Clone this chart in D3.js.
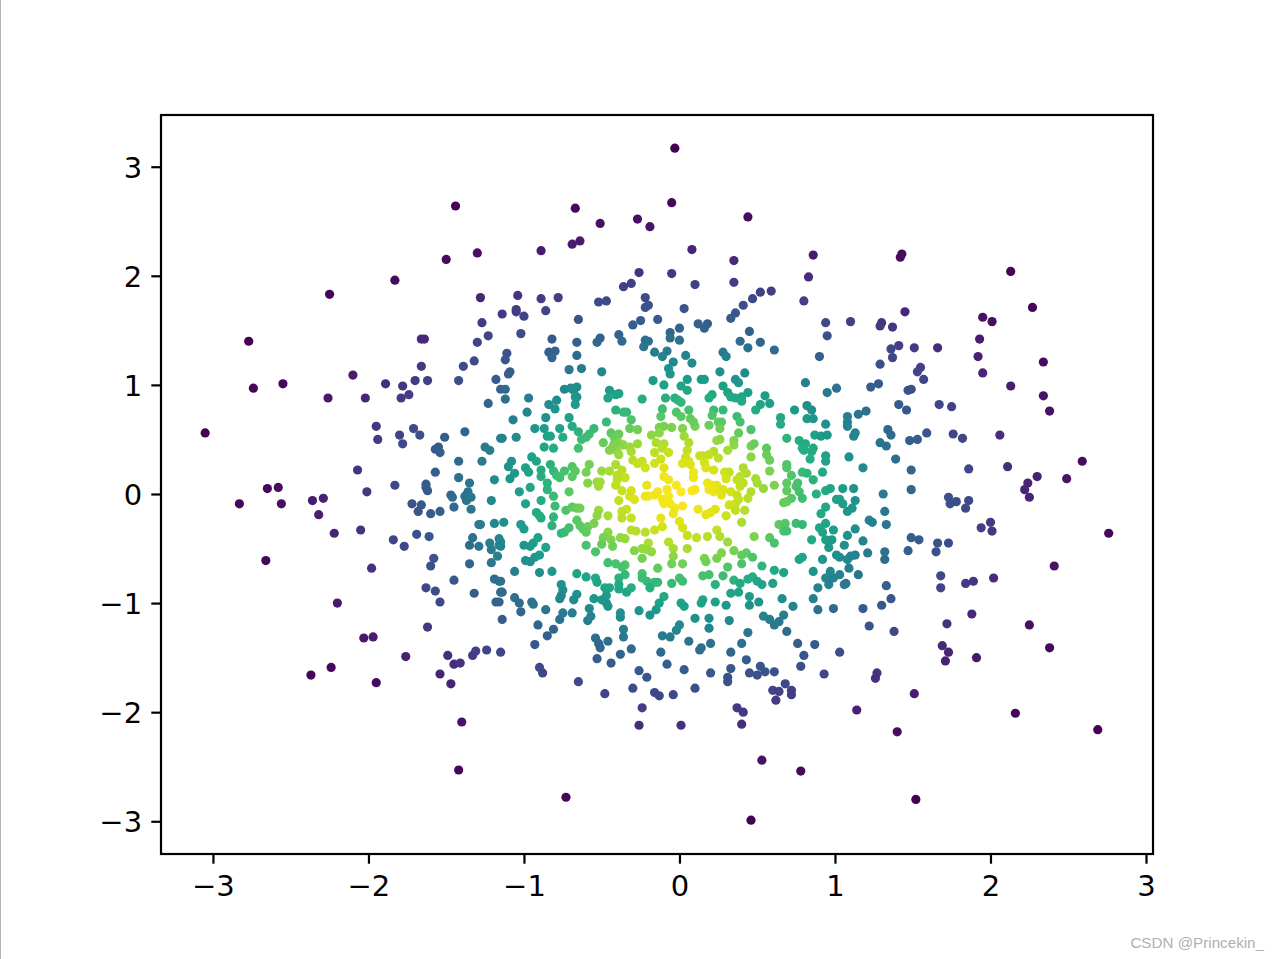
<!DOCTYPE html>
<html>
<head>
<meta charset="utf-8">
<script src="https://cdn.jsdelivr.net/npm/d3@7/dist/d3.min.js"></script>
<style>
html,body{margin:0;padding:0;background:#fff;overflow:hidden}
svg{display:block}
.tick text{font-family:"DejaVu Sans",sans-serif;font-size:29px;fill:#000}
</style>
</head>
<body>
<script>
const xTicks=[-3,-2,-1,0,1,2,3];
const yTicks=[-3,-2,-1,0,1,2,3];
const watermark="CSDN @Princekin_";
const xDomain=[-3.334,3.045];
const yDomain=[-3.30,3.474];
const colorDistance=[0,0.22,0.5,0.62,0.75,0.88,1.03,1.3,1.52,1.9,2.2,2.6,3.17];
const colorLevel=[1,0.97,0.87,0.80,0.72,0.63,0.56,0.42,0.31,0.20,0.11,0.03,0];

const upperLeft=[[-1.44,2.64],[-1.30,2.21],[-1.50,2.15],[-1.83,1.96],[-2.25,1.83],[-1.28,1.80],[-1.27,1.57],[-1.23,1.45],[-1.30,1.39],[-2.77,1.40],[-1.66,1.42],[-1.64,1.42],[-1.32,1.22],[-1.66,1.17],[-1.39,1.17]];
const upperMiddle=[[-0.03,3.17],[-0.05,2.67],[-0.67,2.62],[-0.51,2.48],[-0.27,2.52],[-0.19,2.45],[0.44,2.54],[-0.89,2.23],[-0.69,2.29],[-0.64,2.32],[0.08,2.24],[0.35,2.14],[0.86,2.19],[0.83,1.99],[-0.26,2.03],[-0.05,2.02],[0.35,1.94],[0.10,1.92],[-0.31,1.93],[-0.36,1.90],[0.59,1.86],[0.52,1.85],[0.47,1.79],[0.41,1.73],[0.36,1.66],[0.33,1.61],[0.80,1.77],[-1.04,1.82],[-0.89,1.79],[-0.78,1.80],[-0.86,1.68],[-1.05,1.69],[-1.05,1.67],[-1.00,1.63],[-1.14,1.65],[-0.52,1.76],[-0.47,1.77],[-0.22,1.80],[-0.20,1.73],[-0.22,1.71],[0.03,1.70],[-0.65,1.60],[-0.14,1.60],[-0.25,1.59],[-0.30,1.55],[0.12,1.56],[0.18,1.56],[0.16,1.52],[0.00,1.52],[-0.06,1.48],[-0.06,1.43],[0.00,1.41],[-1.02,1.47],[-0.82,1.42],[-0.66,1.39],[-0.51,1.43],[-0.53,1.39],[-0.39,1.46],[-0.37,1.40],[-0.22,1.41],[-0.20,1.40],[-0.23,1.35],[-0.16,1.30],[-0.08,1.31],[-0.11,1.26],[0.04,1.27],[-0.04,1.21],[0.08,1.20],[0.28,1.30],[0.30,1.26],[0.45,1.49],[0.39,1.40],[0.44,1.34],[0.52,1.39],[0.61,1.32],[0.94,1.57],[0.95,1.45],[0.90,1.26],[-1.11,1.29],[-1.12,1.23],[-0.84,1.30],[-0.80,1.31],[-0.82,1.25],[-0.66,1.27]];
const upperRight=[[1.43,2.20],[1.42,2.17],[2.13,2.04],[2.27,1.71],[1.45,1.67],[1.10,1.58],[1.30,1.57],[1.29,1.54],[1.37,1.53],[1.95,1.62],[2.01,1.58],[1.93,1.42],[1.92,1.26],[2.34,1.21],[1.41,1.36],[1.36,1.33],[1.37,1.25],[1.51,1.34],[1.66,1.34],[1.29,1.19]];
const middleRight=[[1.55,1.16],[1.53,1.12],[1.57,1.05],[1.95,1.11],[2.13,0.99],[2.34,0.90],[2.38,0.76],[1.23,0.98],[1.28,1.01],[1.47,0.95],[1.49,0.96],[1.41,0.82],[1.46,0.77],[1.67,0.82],[1.75,0.80],[1.08,0.71],[1.15,0.73],[1.20,0.76],[1.08,0.66],[1.08,0.62],[1.13,0.56],[1.12,0.53],[1.34,0.59],[1.36,0.54],[1.29,0.47],[1.33,0.44],[1.48,0.49],[1.53,0.50],[1.59,0.56],[1.76,0.55],[1.82,0.51],[2.06,0.54],[1.39,0.32],[1.09,0.34],[1.18,0.24],[1.49,0.22],[1.86,0.23],[2.11,0.25],[2.59,0.30],[2.30,0.16],[2.49,0.14],[2.24,0.10],[2.22,0.04],[2.25,-0.03],[1.12,0.05],[1.05,0.05],[1.31,0.00],[1.49,0.04],[1.73,-0.03],[1.78,-0.07],[1.74,-0.09],[1.86,-0.06],[1.84,-0.13],[1.13,-0.06],[1.03,-0.05],[1.05,-0.09],[1.11,-0.13],[1.08,-0.16],[1.32,-0.16],[1.22,-0.24],[1.24,-0.26],[1.33,-0.28],[2.00,-0.26],[1.94,-0.31],[2.01,-0.34],[1.13,-0.32],[2.76,-0.36],[1.08,-0.38],[1.18,-0.43],[1.06,-0.47],[1.49,-0.40],[1.54,-0.42],[1.66,-0.45],[1.73,-0.45],[1.65,-0.53],[1.47,-0.52],[1.32,-0.53],[1.32,-0.60],[1.21,-0.54],[1.13,-0.56],[1.10,-0.57],[1.08,-0.60],[1.03,-0.58],[1.09,-0.68],[1.15,-0.74],[1.03,-0.74],[1.07,-0.82],[1.06,-0.83],[1.33,-0.84],[1.68,-0.75],[1.68,-0.86],[1.84,-0.82],[1.89,-0.80],[2.02,-0.77],[2.41,-0.66],[1.36,-0.96],[1.30,-1.02],[1.18,-1.05],[1.88,-1.10]];
const lowerRight=[[2.25,-1.20],[2.38,-1.41],[1.72,-1.19],[1.22,-1.21],[1.38,-1.26],[1.69,-1.39],[1.73,-1.45],[1.71,-1.53],[1.91,-1.50],[1.03,-1.45],[1.27,-1.64],[1.26,-1.69],[1.51,-1.83],[1.14,-1.98],[1.40,-2.18],[2.16,-2.01],[2.69,-2.16],[1.52,-2.80]];
const lowerMiddle=[[-1.14,-1.15],[-0.91,-1.20],[-0.81,-1.24],[-0.85,-1.30],[-0.93,-1.38],[-0.77,-1.15],[-0.59,-1.16],[-0.57,-1.12],[-0.38,-1.13],[-0.36,-1.24],[-0.36,-1.31],[-0.54,-1.32],[-0.46,-1.35],[-0.52,-1.37],[-0.51,-1.41],[-0.31,-1.42],[-0.38,-1.47],[-0.53,-1.51],[-0.44,-1.55],[-0.26,-1.62],[-0.21,-1.68],[-0.30,-1.78],[-0.16,-1.82],[-0.13,-1.85],[-0.04,-1.84],[0.10,-1.78],[-0.24,-1.96],[-0.26,-2.12],[0.01,-2.12],[-0.65,-1.72],[-0.48,-1.83],[-0.90,-1.59],[-0.88,-1.64],[-1.15,-1.45],[-0.11,-1.30],[-0.06,-1.31],[-0.02,-1.25],[0.00,-1.20],[0.10,-1.14],[0.19,-1.14],[0.19,-1.23],[0.32,-1.16],[0.44,-1.27],[0.40,-1.37],[0.06,-1.35],[0.20,-1.37],[0.14,-1.41],[0.13,-1.43],[-0.12,-1.45],[0.33,-1.45],[0.43,-1.52],[-0.08,-1.56],[0.03,-1.61],[0.20,-1.64],[0.33,-1.60],[0.31,-1.68],[0.31,-1.72],[0.45,-1.64],[0.50,-1.66],[0.52,-1.58],[0.55,-1.63],[0.61,-1.63],[0.37,-1.96],[0.41,-2.00],[0.40,-2.11],[0.68,-1.74],[0.60,-1.80],[0.64,-1.81],[0.72,-1.80],[0.72,-1.84],[0.62,-1.89],[0.78,-1.58],[0.80,-1.48],[0.76,-1.37],[0.87,-1.38],[0.93,-1.65],[0.69,-1.26],[0.53,-2.44],[0.78,-2.54],[-0.73,-2.78],[0.46,-2.99],[0.54,-1.12],[0.58,-1.15],[0.61,-1.20],[0.64,-1.17],[0.67,-1.11],[-0.19,-1.11]];
const lowerLeft=[[-1.62,-1.22],[-2.03,-1.32],[-1.97,-1.31],[-1.76,-1.49],[-1.49,-1.48],[-1.45,-1.56],[-1.41,-1.55],[-1.54,-1.65],[-1.47,-1.74],[-1.33,-1.48],[-1.31,-1.44],[-1.24,-1.43],[-2.24,-1.59],[-2.37,-1.66],[-1.95,-1.73],[-1.40,-2.09],[-1.42,-2.53]];
const middleLeft=[[-2.10,1.09],[-1.89,1.01],[-1.78,0.99],[-1.70,1.04],[-1.62,1.04],[-1.42,1.04],[-1.18,1.05],[-2.74,0.97],[-2.55,1.01],[-2.26,0.88],[-2.02,0.88],[-1.79,0.88],[-1.74,0.91],[-1.23,0.83],[-1.15,0.96],[-3.05,0.56],[-1.95,0.62],[-1.94,0.50],[-1.80,0.54],[-1.71,0.60],[-1.67,0.54],[-1.78,0.46],[-1.51,0.52],[-1.38,0.57],[-1.15,0.51],[-1.55,0.43],[-1.57,0.41],[-1.54,0.38],[-1.25,0.43],[-1.22,0.40],[-1.42,0.30],[-1.27,0.30],[-2.07,0.22],[-1.57,0.20],[-1.42,0.15],[-1.35,0.10],[-1.19,0.13],[-1.83,0.08],[-1.63,0.09],[-1.63,0.06],[-1.62,0.03],[-2.65,0.05],[-2.58,0.06],[-2.01,0.02],[-2.83,-0.09],[-2.56,-0.09],[-2.36,-0.06],[-2.29,-0.04],[-2.32,-0.19],[-1.47,-0.01],[-1.46,-0.03],[-1.36,0.02],[-1.38,-0.02],[-1.34,-0.03],[-1.37,-0.06],[-1.21,-0.06],[-1.72,-0.09],[-1.66,-0.10],[-1.68,-0.16],[-1.60,-0.18],[-1.54,-0.16],[-1.45,-0.12],[-1.34,-0.14],[-1.29,-0.28],[-1.28,-0.28],[-1.19,-0.27],[-2.22,-0.36],[-2.05,-0.33],[-1.84,-0.42],[-1.77,-0.48],[-1.69,-0.37],[-1.61,-0.39],[-1.33,-0.40],[-1.35,-0.47],[-1.29,-0.48],[-1.22,-0.45],[-1.16,-0.41],[-1.21,-0.51],[-1.16,-0.47],[-1.17,-0.57],[-2.66,-0.61],[-1.98,-0.68],[-1.58,-0.59],[-1.60,-0.66],[-1.35,-0.64],[-1.21,-0.63],[-1.45,-0.79],[-1.63,-0.86],[-1.57,-0.89],[-1.32,-0.91],[-1.19,-0.78],[-1.16,-0.80],[-1.15,-0.90],[-2.20,-1.00],[-1.54,-0.99],[-1.18,-0.99],[-1.16,-0.99]];
const centreTop=[[-1.09,1.12],[-1.10,1.10],[-0.71,1.14],[-0.63,1.15],[-0.50,1.12],[-0.07,1.15],[-0.06,1.10],[0.26,1.12],[0.42,1.11],[-0.17,1.04],[-0.10,1.00],[0.05,1.05],[0.01,0.99],[0.05,0.95],[0.14,1.05],[0.16,1.05],[0.28,0.99],[0.36,1.05],[0.38,1.02],[0.44,0.93],[0.31,0.93],[0.33,0.89],[0.36,0.88],[0.40,0.89],[0.40,0.85],[0.21,0.91],[0.19,0.88],[0.55,0.90],[0.58,0.83],[0.52,0.82],[0.49,0.77],[0.81,1.02],[0.95,0.93],[1.01,0.97],[0.74,0.77],[0.82,0.81],[0.85,0.77],[0.82,0.69],[0.86,0.69],[0.94,0.64],[0.65,0.70],[0.65,0.64],[0.87,0.54],[0.91,0.53],[0.95,0.54],[0.69,0.51],[0.77,0.49],[0.81,0.46],[0.79,0.42],[0.86,0.42],[0.85,0.39],[0.80,0.40],[0.84,0.32],[0.94,0.35],[0.94,0.30],[-1.12,0.96],[-1.12,0.87],[-0.97,0.88],[-0.74,0.96],[-0.70,0.97],[-0.68,0.95],[-0.66,0.98],[-0.67,0.89],[-0.66,0.89],[-0.67,0.82],[-0.79,0.86],[-0.84,0.82],[-0.80,0.78],[-0.98,0.75],[-0.86,0.70],[-1.07,0.68],[-0.71,0.70],[-0.69,0.62],[-0.93,0.60],[-0.87,0.60],[-0.77,0.60],[-0.85,0.53],[-0.83,0.53],[-0.75,0.52],[-0.65,0.57],[-0.63,0.50],[-0.60,0.52],[-0.58,0.55],[-0.55,0.60],[-1.05,0.52],[-1.14,0.51],[-0.87,0.43],[-0.81,0.42],[-0.65,0.42],[-0.45,0.95],[-0.46,0.88],[-0.41,0.91],[-0.39,0.92],[-0.24,0.87],[-0.09,0.88],[-0.03,0.88],[-0.01,0.86],[0.01,0.84]];
const centreUpper=[[-0.41,0.77],[-0.36,0.75],[-0.34,0.75],[-0.47,0.66],[-0.31,0.68],[-0.32,0.60],[-0.27,0.59],[-0.44,0.56],[-0.39,0.55],[-0.42,0.52],[-0.49,0.47],[-0.42,0.46],[-0.39,0.47],[-0.36,0.45],[-0.45,0.40],[-0.40,0.39],[-0.39,0.36],[-0.43,0.43],[-0.32,0.43],[-0.31,0.39],[-0.27,0.46],[-0.11,0.78],[-0.12,0.71],[-0.02,0.75],[0.01,0.71],[0.06,0.77],[0.07,0.69],[0.10,0.62],[0.09,0.66],[0.22,0.77],[0.28,0.77],[0.21,0.72],[0.37,0.71],[0.19,0.63],[0.25,0.66],[0.27,0.66],[0.26,0.60],[0.39,0.66],[0.46,0.59],[0.38,0.56],[-0.13,0.61],[-0.10,0.62],[-0.05,0.61],[0.02,0.60],[-0.18,0.54],[-0.13,0.56],[0.03,0.53],[-0.15,0.47],[-0.10,0.46],[0.06,0.47],[-0.16,0.38],[-0.11,0.42],[0.05,0.40],[-0.07,0.38],[0.24,0.49],[0.26,0.50],[0.35,0.49],[0.35,0.45],[0.31,0.40],[0.46,0.44],[0.48,0.46],[0.56,0.42],[0.56,0.36],[0.58,0.31],[0.46,0.34],[0.58,0.21],[0.22,0.39],[0.19,0.36],[0.15,0.35],[0.13,0.35],[0.25,0.33],[0.16,0.29],[0.17,0.24],[0.22,0.22],[0.04,0.34],[0.06,0.30],[0.02,0.28],[0.07,0.27],[0.09,0.20],[0.09,0.15],[-0.30,0.31],[-0.27,0.28],[-0.24,0.30],[-0.22,0.24],[-0.16,0.28],[-0.12,0.32],[-0.10,0.24],[-0.10,0.16],[-0.07,0.13],[-0.02,0.08]];
const centreMiddle=[[-0.58,0.27],[-0.60,0.20],[-0.41,0.27],[-0.50,0.21],[-0.45,0.21],[-0.37,0.22],[-0.40,0.17],[-0.35,0.15],[-0.40,0.13],[-0.41,0.08],[-0.59,0.10],[-0.53,0.11],[-0.51,0.11],[-0.52,0.07],[-0.21,0.08],[-1.08,0.30],[-1.10,0.25],[-1.06,0.19],[-1.09,0.14],[-0.99,0.24],[-0.97,0.20],[-0.95,0.34],[-0.92,0.30],[-0.89,0.22],[-0.89,0.16],[-0.83,0.27],[-0.81,0.21],[-0.79,0.17],[-0.77,0.15],[-0.74,0.21],[-0.69,0.25],[-0.67,0.21],[-0.69,0.16],[-0.85,0.10],[-0.96,0.06],[-0.85,0.04],[-1.03,0.02],[-0.81,-0.02],[-0.71,0.02],[-0.80,-0.11],[-0.89,-0.06],[-0.99,-0.09],[-0.92,-0.17],[-0.90,-0.20],[-0.89,-0.22],[-0.81,-0.21],[-0.82,-0.29],[-1.13,-0.26],[-1.02,-0.28],[-1.00,-0.32],[-0.73,-0.15],[-0.69,-0.12],[-0.66,-0.13],[-0.64,-0.13],[-0.66,-0.24],[-0.64,-0.29],[-0.62,-0.32],[-0.59,-0.30],[-0.76,-0.36],[-0.74,-0.35],[-0.71,-0.31],[-0.60,-0.35],[-0.52,-0.15],[-0.53,-0.20],[-0.55,-0.27],[-0.46,-0.20],[-0.37,0.03],[-0.39,-0.06],[-0.31,0.03],[-0.32,-0.02],[-0.29,-0.05],[-0.22,-0.02],[-0.20,-0.02],[-0.14,0.02],[-0.16,-0.01],[-0.08,0.04],[-0.07,-0.02],[-0.11,-0.05],[-0.10,-0.09],[-0.06,-0.09],[-0.03,-0.13],[-0.04,-0.18],[0.02,-0.11],[0.01,0.02],[0.08,0.03],[0.10,0.04],[0.18,0.10],[0.21,0.08],[0.19,0.04],[0.24,0.08],[0.22,0.02],[0.27,-0.01],[0.25,0.04],[0.28,0.04],[0.33,0.02],[0.37,-0.01],[0.29,0.20],[0.32,0.20],[0.30,0.14],[0.41,0.24],[0.43,0.19],[0.39,0.16],[0.37,0.13],[0.41,0.10],[0.39,0.07],[0.49,0.14],[0.50,0.10],[0.54,0.05],[0.61,0.08],[0.69,0.10],[0.69,0.03],[0.69,0.27],[0.69,0.24],[0.72,0.17],[0.79,0.20],[0.82,0.19],[0.76,0.10],[0.75,0.07],[0.86,0.13],[0.92,0.20],[0.77,0.02],[0.79,-0.04],[0.88,0.00],[0.94,0.03],[0.97,0.05],[0.46,0.02],[0.44,-0.04],[0.36,-0.09],[0.32,-0.10],[0.38,-0.05],[0.36,-0.15],[0.42,-0.15],[0.30,-0.20],[0.40,-0.26],[0.23,-0.14],[0.20,-0.17],[0.17,-0.19],[0.12,-0.14],[0.72,-0.04],[0.69,-0.07],[0.67,-0.08],[0.94,-0.12],[0.91,-0.18],[1.01,-0.05]];
const centreLower=[[0.64,-0.28],[0.68,-0.27],[0.67,-0.34],[0.69,-0.34],[0.75,-0.27],[0.79,-0.28],[0.90,-0.31],[0.92,-0.35],[0.94,-0.27],[0.99,-0.33],[0.85,-0.42],[0.94,-0.42],[0.98,-0.42],[0.96,-0.49],[0.24,-0.33],[0.26,-0.39],[0.31,-0.44],[0.11,-0.40],[0.18,-0.39],[0.48,-0.39],[0.58,-0.40],[0.61,-0.45],[-0.12,-0.22],[-0.11,-0.30],[-0.16,-0.33],[-0.22,-0.35],[0.00,-0.25],[0.02,-0.31],[0.05,-0.38],[-0.34,-0.14],[-0.37,-0.16],[-0.37,-0.22],[-0.31,-0.22],[-0.31,-0.33],[-0.28,-0.34],[-0.46,-0.35],[-0.49,-0.40],[-0.44,-0.42],[-0.43,-0.48],[-0.38,-0.40],[-0.35,-0.41],[-0.60,-0.47],[-0.54,-0.53],[-0.50,-0.46],[-0.29,-0.52],[-0.24,-0.50],[-0.20,-0.45],[-0.21,-0.51],[-0.18,-0.53],[-0.24,-0.59],[-0.07,-0.44],[-0.04,-0.50],[0.05,-0.50],[-0.04,-0.57],[-0.05,-0.64],[0.02,-0.64],[-0.14,-0.68],[-0.46,-0.63],[-0.41,-0.64],[-0.35,-0.65],[-0.37,-0.67],[-0.24,-0.73],[-0.21,-0.80],[-0.24,-0.77],[-0.16,-0.81],[-0.19,-0.86],[-0.14,-0.81],[-0.05,-0.82],[0.00,-0.77],[0.02,-0.80],[0.16,-0.59],[0.17,-0.62],[0.24,-0.59],[0.27,-0.54],[0.35,-0.52],[0.40,-0.56],[0.43,-0.54],[0.47,-0.58],[0.40,-0.64],[0.53,-0.66],[0.31,-0.67],[0.61,-0.70],[0.67,-0.72],[0.15,-0.75],[0.19,-0.74],[0.28,-0.75],[0.23,-0.83],[0.35,-0.79],[0.39,-0.82],[0.38,-0.90],[0.33,-0.91],[0.44,-0.78],[0.47,-0.76],[0.50,-0.80],[0.53,-0.83],[0.60,-0.82],[0.45,-0.94],[0.45,-1.02],[0.51,-0.99],[0.66,-0.96],[0.73,-1.03],[0.77,-0.60],[0.79,-0.58],[0.92,-0.60],[1.01,-0.56],[0.86,-0.71],[0.97,-0.71],[0.94,-0.77],[0.96,-0.76],[0.99,-0.77],[0.96,-0.83],[0.89,-0.86],[0.86,-0.96],[0.89,-1.06],[0.99,-1.05],[-0.99,-0.61],[-0.96,-0.62],[-0.93,-0.58],[-0.90,-0.56],[-1.00,-0.47],[-0.96,-0.48],[-0.94,-0.45],[-0.91,-0.40],[-0.86,-0.49],[-1.06,-0.71],[-0.90,-0.72],[-0.82,-0.71],[-0.66,-0.73],[-0.60,-0.76],[-0.54,-0.77],[-0.53,-0.81],[-0.76,-0.83],[-0.75,-0.88],[-0.76,-0.93],[-0.77,-0.96],[-0.66,-0.92],[-0.68,-0.97],[-0.48,-0.86],[-0.45,-0.86],[-0.47,-0.93],[-0.35,-0.74],[-0.39,-0.77],[-0.39,-0.83],[-0.39,-0.87],[-0.34,-0.90],[-0.31,-0.86],[-0.55,-0.96],[-0.50,-0.97],[-0.47,-1.00],[-0.46,-1.03],[-0.58,-1.05],[-0.26,-1.07],[-0.15,-1.06],[-0.10,-0.94],[-0.13,-1.00],[0.01,-1.00],[0.03,-1.03],[0.15,-0.97],[0.14,-1.00],[0.23,-0.99],[0.30,-1.02],[-1.15,-0.80],[-1.14,-0.90],[-1.06,-0.95],[-1.03,-1.00],[-1.02,-1.08],[-0.95,-0.99],[-0.94,-1.01],[-0.86,-1.06],[-0.75,-1.09],[-0.69,-1.09],[-0.38,-1.09],[-1.15,-0.44],[-1.15,-0.48]];

const width=1279,height=959;
const plot={left:161,right:1153,top:115,bottom:854};
const tickLen=9.7,lineW=2.2;

const x=d3.scaleLinear().domain(xDomain).range([plot.left,plot.right]);
const y=d3.scaleLinear().domain(yDomain).range([plot.bottom,plot.top]);
const level=d3.scaleLinear().domain(colorDistance).range(colorLevel).clamp(true);
const fmt=d=>d<0?"\u2212"+Math.abs(d):String(d);

const svg=d3.select("body").append("svg").attr("width",width).attr("height",height);
svg.append("rect").attr("width",width).attr("height",height).attr("fill","#fff");
svg.append("line").attr("x1",0.5).attr("x2",0.5).attr("y1",0).attr("y2",height).attr("stroke","#b4b4b4").attr("stroke-width",1);

const all=[].concat(upperLeft,upperMiddle,upperRight,middleRight,lowerRight,lowerMiddle,lowerLeft,middleLeft,centreTop,centreUpper,centreMiddle,centreLower);
svg.append("g").selectAll("circle").data(all).join("circle")
  .attr("cx",d=>x(d[0])).attr("cy",d=>y(d[1])).attr("r",4.6)
  .attr("fill",d=>d3.interpolateViridis(level(Math.hypot(d[0],d[1]))));

const gx=svg.append("g").attr("transform",`translate(0,${plot.bottom})`)
  .call(d3.axisBottom(x).tickValues(xTicks).tickFormat(fmt).tickSize(tickLen).tickPadding(11.7));
const gy=svg.append("g").attr("transform",`translate(${plot.left},0)`)
  .call(d3.axisLeft(y).tickValues(yTicks).tickFormat(fmt).tickSize(tickLen).tickPadding(9.2));
gy.selectAll(".tick text").attr("dy","0.365em");
[gx,gy].forEach(g=>{
  g.select(".domain").remove();
  g.attr("font-family",null).attr("font-size",null);
  g.selectAll(".tick line").attr("stroke","#000").attr("stroke-width",lineW);
});
svg.append("rect").attr("x",plot.left).attr("y",plot.top)
  .attr("width",plot.right-plot.left).attr("height",plot.bottom-plot.top)
  .attr("fill","none").attr("stroke","#000").attr("stroke-width",lineW);

svg.append("text").attr("x",1264).attr("y",948).attr("text-anchor","end")
  .attr("font-family","'Liberation Sans',Arial,sans-serif").attr("font-size",15.2)
  .attr("fill","#b0b0b0").text(watermark);
</script>
</body>
</html>
